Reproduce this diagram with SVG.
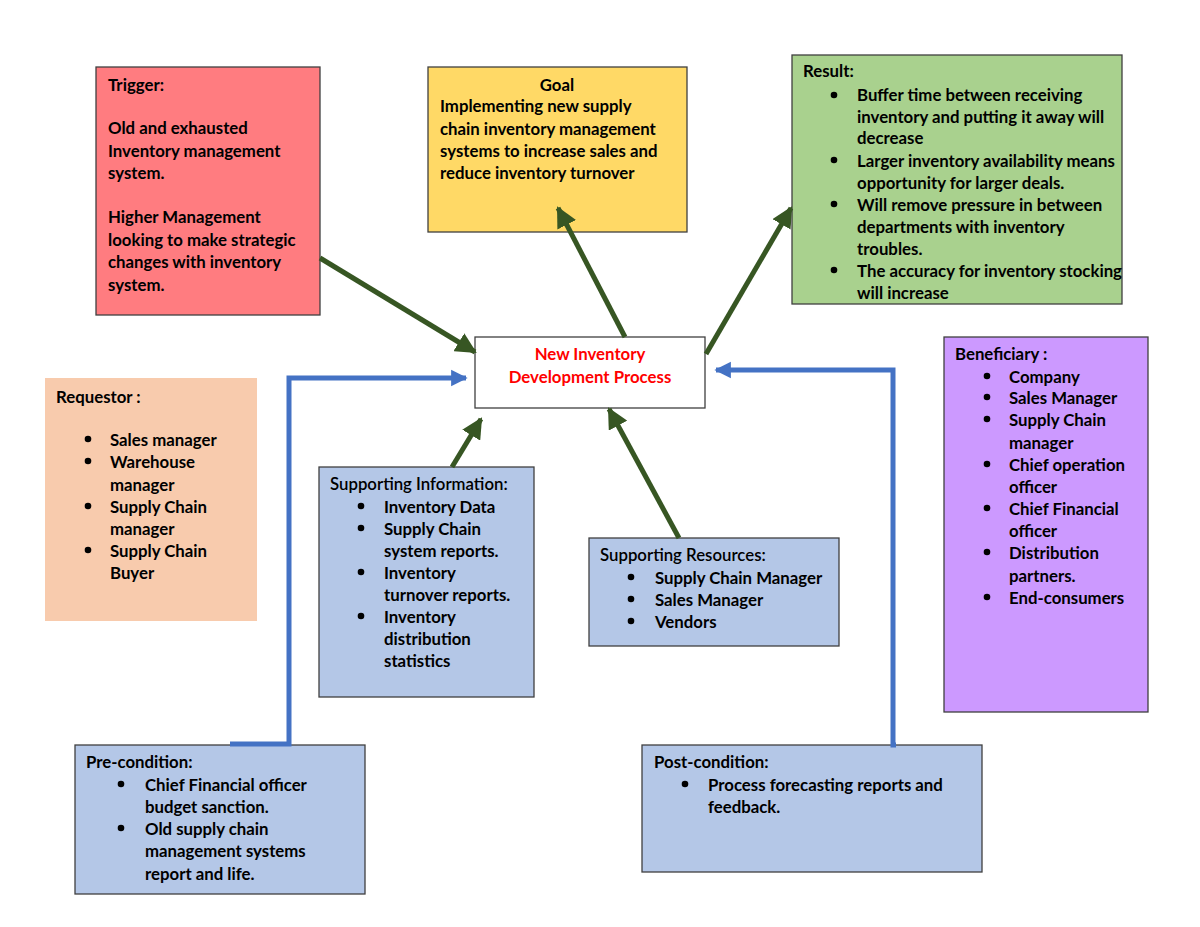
<svg xmlns="http://www.w3.org/2000/svg" width="1200" height="927" viewBox="0 0 1200 927">
<defs>
<style>
text{font-family:Lato,"Open Sans","Liberation Sans",sans-serif;font-size:16.8px;font-weight:bold;fill:#000}
.t{font-weight:600}
.red{fill:#FF0000}
.box{stroke:#404040;stroke-width:1.3}
.g{stroke:#375623;stroke-width:5;fill:none;marker-end:url(#ga)}
.b{stroke:#4472C4;stroke-width:5;fill:none;marker-end:url(#ba)}
.dot{fill:#000}
</style>
<marker id="ga" viewBox="0 0 10 10" refX="9" refY="5" markerWidth="4.2" markerHeight="4.2" orient="auto"><path d="M0,0 L10,5 L0,10 z" fill="#375623"/></marker>
<marker id="ba" viewBox="0 0 10 10" refX="9" refY="5" markerWidth="3.3" markerHeight="3.6" orient="auto"><path d="M0,0 L10,5 L0,10 z" fill="#4472C4"/></marker>
<circle id="bl" r="3.3"/>
</defs>
<rect width="1200" height="927" fill="#fff"/>

<g id="trigger">
<rect class="box" x="96" y="67" width="224" height="248" fill="#FF7C80"/>
<text x="108" y="91">Trigger:</text>
<text x="108" y="134">Old and exhausted</text>
<text x="108" y="157">Inventory management</text>
<text x="108" y="179">system.</text>
<text x="108" y="223">Higher Management</text>
<text x="108" y="246">looking to make strategic</text>
<text x="108" y="268">changes with inventory</text>
<text x="108" y="291">system.</text>
</g>

<g id="goal">
<rect class="box" x="428" y="67" width="259" height="165" fill="#FFD966"/>
<text x="557" y="91" text-anchor="middle">Goal</text>
<text x="440" y="112">Implementing new supply</text>
<text x="440" y="135">chain inventory management</text>
<text x="440" y="157">systems to increase sales and</text>
<text x="440" y="179">reduce inventory turnover</text>
</g>

<g id="result">
<rect class="box" x="792" y="55" width="330" height="249" fill="#A9D18E"/>
<text x="803" y="77">Result:</text>
<g class="dot"><use href="#bl" x="834" y="95"/><use href="#bl" x="834" y="160"/><use href="#bl" x="834" y="204"/><use href="#bl" x="834" y="270"/></g>
<text x="857" y="101">Buffer time between receiving</text>
<text x="857" y="123">inventory and putting it away will</text>
<text x="857" y="144">decrease</text>
<text x="857" y="167">Larger inventory availability means</text>
<text x="857" y="189">opportunity for larger deals.</text>
<text x="857" y="211">Will remove pressure in between</text>
<text x="857" y="233">departments with inventory</text>
<text x="857" y="255">troubles.</text>
<text x="857" y="277">The accuracy for inventory stocking</text>
<text x="857" y="299">will increase</text>
</g>

<g id="process">
<rect class="box" x="475" y="337" width="230" height="71" fill="#fff"/>
<text class="red" x="590" y="360" text-anchor="middle">New Inventory</text>
<text class="red" x="590" y="383" text-anchor="middle">Development Process</text>
</g>

<g id="requestor">
<rect x="45" y="378" width="212" height="243" fill="#F8CBAD"/>
<text x="56" y="403">Requestor :</text>
<g class="dot"><use href="#bl" x="88" y="439"/><use href="#bl" x="88" y="461"/><use href="#bl" x="88" y="506"/><use href="#bl" x="88" y="550"/></g>
<text x="110" y="446">Sales manager</text>
<text x="110" y="468">Warehouse</text>
<text x="110" y="491">manager</text>
<text x="110" y="513">Supply Chain</text>
<text x="110" y="535">manager</text>
<text x="110" y="557">Supply Chain</text>
<text x="110" y="579">Buyer</text>
</g>

<g id="beneficiary">
<rect class="box" x="944" y="337" width="204" height="375" fill="#CC99FF"/>
<text x="955" y="360">Beneficiary :</text>
<g class="dot"><use href="#bl" x="987" y="376"/><use href="#bl" x="987" y="397"/><use href="#bl" x="987" y="419"/><use href="#bl" x="987" y="464"/><use href="#bl" x="987" y="508"/><use href="#bl" x="987" y="552"/><use href="#bl" x="987" y="597"/></g>
<text x="1009" y="383">Company</text>
<text x="1009" y="404">Sales Manager</text>
<text x="1009" y="426">Supply Chain</text>
<text x="1009" y="449">manager</text>
<text x="1009" y="471">Chief operation</text>
<text x="1009" y="493">officer</text>
<text x="1009" y="515">Chief Financial</text>
<text x="1009" y="537">officer</text>
<text x="1009" y="559">Distribution</text>
<text x="1009" y="582">partners.</text>
<text x="1009" y="604">End-consumers</text>
</g>

<g id="supporting-information">
<rect class="box" x="319" y="467" width="215" height="230" fill="#B4C7E7"/>
<text class="t" x="330" y="490">Supporting Information:</text>
<g class="dot"><use href="#bl" x="361" y="506"/><use href="#bl" x="361" y="528"/><use href="#bl" x="361" y="572"/><use href="#bl" x="361" y="616"/></g>
<text x="384" y="513">Inventory Data</text>
<text x="384" y="535">Supply Chain</text>
<text x="384" y="557">system reports.</text>
<text x="384" y="579">Inventory</text>
<text x="384" y="601">turnover reports.</text>
<text x="384" y="623">Inventory</text>
<text x="384" y="645">distribution</text>
<text x="384" y="667">statistics</text>
</g>

<g id="supporting-resources">
<rect class="box" x="589" y="538" width="250" height="108" fill="#B4C7E7"/>
<text class="t" x="600" y="561">Supporting Resources:</text>
<g class="dot"><use href="#bl" x="631" y="577"/><use href="#bl" x="631" y="599"/><use href="#bl" x="631" y="621"/></g>
<text x="655" y="584">Supply Chain Manager</text>
<text x="655" y="606">Sales Manager</text>
<text x="655" y="628">Vendors</text>
</g>

<g id="pre-condition">
<rect class="box" x="75" y="745" width="290" height="149" fill="#B4C7E7"/>
<text x="86" y="768">Pre-condition:</text>
<g class="dot"><use href="#bl" x="121" y="784"/><use href="#bl" x="121" y="828"/></g>
<text x="145" y="791">Chief Financial officer</text>
<text x="145" y="813">budget sanction.</text>
<text x="145" y="835">Old supply chain</text>
<text x="145" y="857">management systems</text>
<text x="145" y="880">report and life.</text>
</g>

<g id="post-condition">
<rect class="box" x="642" y="745" width="340" height="127" fill="#B4C7E7"/>
<text x="654" y="768">Post-condition:</text>
<g class="dot"><use href="#bl" x="685" y="784"/></g>
<text x="708" y="791">Process forecasting reports and</text>
<text x="708" y="813">feedback.</text>
</g>

<g id="connectors">
<line class="g" x1="320" y1="258" x2="475" y2="352"/>
<line class="g" x1="625" y1="337" x2="558" y2="208"/>
<line class="g" x1="706" y1="354" x2="791" y2="208"/>
<line class="g" x1="452" y1="467" x2="481" y2="419"/>
<line class="g" x1="679" y1="538" x2="609" y2="409"/>
<polyline class="b" points="230,744 289,744 289,378 466,378"/>
<polyline class="b" points="896,745 893,745 893,370 716,370"/>
</g>
</svg>
